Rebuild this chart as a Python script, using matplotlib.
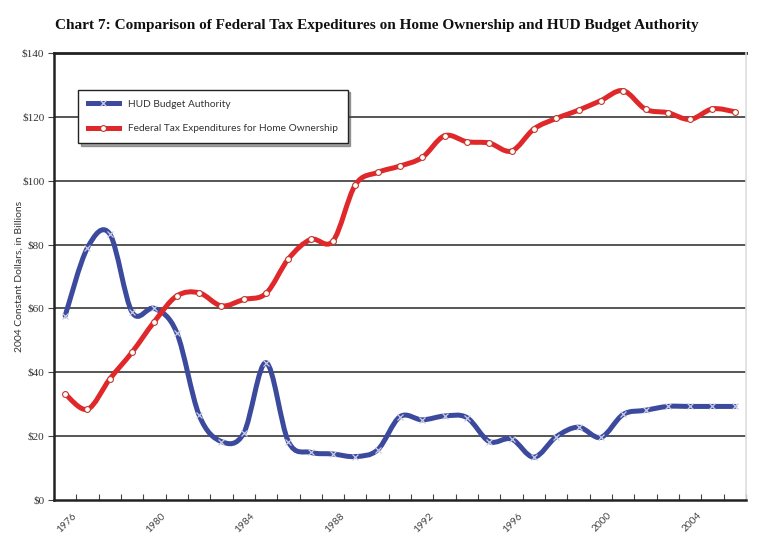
import matplotlib
matplotlib.use("Agg")
import matplotlib.pyplot as plt
import matplotlib.transforms as mtransforms
from matplotlib.path import Path
from matplotlib.patches import PathPatch
from matplotlib.lines import Line2D
import numpy as np

years = list(range(1976, 2007))
hud = [57.7, 79.0, 83.3, 58.8, 60.0, 52.4, 26.6, 18.3, 20.9, 43.0,
       18.3, 14.9, 14.4, 13.6, 15.7, 26.1, 25.1, 26.3, 25.8, 18.3,
       19.1, 13.4, 19.8, 22.8, 19.6, 26.8, 28.1, 29.3, 29.3, 29.3, 29.3]
fed_tax = [33.2, 28.4, 37.9, 46.3, 55.9, 63.9, 64.9, 60.8, 62.8, 64.7,
           75.5, 81.6, 81.1, 98.7, 102.6, 104.6, 107.3, 114.1, 112.2, 111.8,
           109.3, 116.2, 119.5, 122.1, 125.1, 128.2, 122.4, 121.3, 119.2, 122.5, 121.6]
yticks = [0, 20, 40, 60, 80, 100, 120, 140]
xlabel_years = [1976, 1980, 1984, 1988, 1992, 1996, 2000, 2004]

blue = "#3B4A9C"
red = "#E0282B"
sans = "Lato"


def smooth_path(x, y):
    # bezier path like a spreadsheet "smoothed line"
    x = np.asarray(x, float)
    y = np.asarray(y, float)
    verts = [(x[0], y[0])]
    codes = [Path.MOVETO]
    n = len(x)
    for i in range(n - 1):
        x0, y0 = (x[i - 1], y[i - 1]) if i > 0 else (x[i], y[i])
        x3, y3 = (x[i + 2], y[i + 2]) if i + 2 < n else (x[i + 1], y[i + 1])
        c1 = (x[i] + (x[i + 1] - x0) / 6, y[i] + (y[i + 1] - y0) / 6)
        c2 = (x[i + 1] - (x3 - x[i]) / 6, y[i + 1] - (y3 - y[i]) / 6)
        verts += [c1, c2, (x[i + 1], y[i + 1])]
        codes += [Path.CURVE4] * 3
    return Path(verts, codes)


fig = plt.figure(figsize=(7.68, 5.51), dpi=100)
ax = fig.add_axes([0.0703, 0.0926, 0.901, 0.8112])

xs = np.arange(len(years))

ax.add_patch(PathPatch(smooth_path(xs, hud), fc="none", ec=blue, lw=3.6,
                       capstyle="round", joinstyle="round", zorder=3))
ax.plot(xs, hud, ls="none", marker="x", ms=4, mew=0.9, color="#C9CCE6", zorder=4)

ax.add_patch(PathPatch(smooth_path(xs, fed_tax), fc="none", ec=red, lw=3.6,
                       capstyle="round", joinstyle="round", zorder=3))
ax.plot(xs, fed_tax, ls="none", marker="o", ms=4.2, mew=0.8, mfc="white",
        mec="#C0392B", zorder=4)

ax.set_xlim(-0.5, len(years) - 0.5)
ax.set_ylim(0, 140)

ax.set_yticks(yticks)
ax.set_yticklabels(["$%d" % v for v in yticks], fontfamily="Liberation Serif",
                   fontsize=8, color="#333333")
for v in yticks[1:-1]:
    ax.axhline(v, color="#555555", lw=1.4, zorder=1)
ax.axhline(140, color="#222222", lw=2.0, zorder=1, clip_on=False)

ax.set_xticks(np.arange(len(years) + 1) - 0.5)
ax.set_xticklabels([])
ax.tick_params(axis="x", direction="in", length=4, width=0.8, color="#444444")
ax.tick_params(axis="y", direction="out", length=4, width=0.8, color="#444444", pad=3)

offset = mtransforms.ScaledTranslation(0.065, -0.11, fig.dpi_scale_trans)
for yr in xlabel_years:
    ax.text(years.index(yr), 0, str(yr), rotation=45, ha="right", va="top",
            rotation_mode="anchor", fontsize=7.3, color="#444444",
            fontfamily=sans,
            transform=ax.get_xaxis_transform() + offset)

for s in ["left", "bottom"]:
    ax.spines[s].set_linewidth(1.8)
    ax.spines[s].set_color("#222222")
ax.spines["top"].set_visible(False)
ax.spines["right"].set_color("#DDDDDD")
ax.spines["right"].set_linewidth(1.2)

ax.set_ylabel("2004 Constant Dollars, in Billions", fontfamily=sans,
              fontsize=7.5, color="#333333")
ax.yaxis.set_label_coords(-0.044, 0.5)

fig.text(0.072, 0.953, "Chart 7: Comparison of Federal Tax Expeditures on Home Ownership and HUD Budget Authority",
         fontfamily="Liberation Serif", fontweight="bold", fontsize=11, color="#111111",
         va="center", ha="left")

handles = [
    Line2D([], [], color=blue, lw=3.6, marker="x", ms=4, mew=0.9, mec="#C9CCE6"),
    Line2D([], [], color=red, lw=3.6, marker="o", ms=4.2, mew=0.8, mfc="white", mec="#C0392B"),
]
leg = ax.legend(handles, ["HUD Budget Authority", "Federal Tax Expenditures for Home Ownership"],
                loc="upper left", bbox_to_anchor=(0.0347, 0.918), prop={"family": sans, "size": 7.3},
                frameon=True, fancybox=False, shadow=True, handlelength=3,
                borderpad=1.0, labelspacing=1.5, borderaxespad=0, handletextpad=0.9)
leg.get_frame().set_edgecolor("#222222")
leg.get_frame().set_linewidth(1.0)
for t in leg.get_texts():
    t.set_color("#333333")

fig.savefig("out.png", dpi=100)
